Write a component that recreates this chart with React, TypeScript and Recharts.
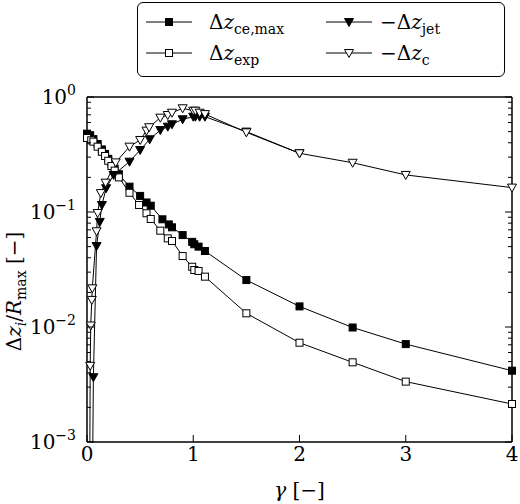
import { LineChart, Line, XAxis, YAxis, Legend, Label } from 'recharts';

document.body.style.margin = '0';

const FONT = "'DejaVu Serif', serif";

// gamma values and Δz/Rmax for each series
const gammaCeMax = [0, 0.03, 0.06, 0.1, 0.14, 0.17, 0.2, 0.23, 0.26, 0.3, 0.4, 0.5, 0.56, 0.6, 0.71, 0.77, 0.8, 0.9, 0.99, 1.01, 1.05, 1.11, 1.5, 2, 2.5, 3, 4];
const ceMax = [0.48, 0.465, 0.43, 0.39, 0.35, 0.32, 0.29, 0.262, 0.238, 0.213, 0.166, 0.138, 0.121, 0.1135, 0.0864, 0.078, 0.0736, 0.063, 0.055, 0.0524, 0.05, 0.0458, 0.0256, 0.0151, 0.0099, 0.0071, 0.00417];

const gammaExp = [0, 0.04, 0.06, 0.1, 0.14, 0.17, 0.2, 0.23, 0.26, 0.3, 0.4, 0.49, 0.56, 0.6, 0.69, 0.76, 0.8, 0.9, 0.99, 1.01, 1.05, 1.11, 1.5, 2, 2.5, 3, 4];
const exp = [0.44, 0.42, 0.409, 0.37, 0.334, 0.307, 0.279, 0.251, 0.229, 0.2, 0.147, 0.115, 0.0975, 0.087, 0.0688, 0.059, 0.056, 0.0414, 0.0334, 0.0313, 0.0307, 0.0274, 0.01315, 0.0073, 0.00493, 0.00335, 0.00214];

const gammaJet = [0, 0.06, 0.09, 0.12, 0.14, 0.18, 0.25, 0.4, 0.5, 0.59, 0.69, 0.76, 0.8, 0.9, 1.0, 1.02, 1.06, 1.11, 1.5, 2];
const jet = [1e-9, 0.00366, 0.0506, 0.082, 0.115, 0.161, 0.21, 0.274, 0.346, 0.429, 0.516, 0.552, 0.579, 0.64, 0.674, 0.674, 0.674, 0.674, 0.5, 0.324];

const gammaC = [0, 0.03, 0.035, 0.045, 0.05, 0.09, 0.1, 0.13, 0.175, 0.27, 0.4, 0.5, 0.56, 0.585, 0.69, 0.76, 0.8, 0.9, 1.0, 1.02, 1.06, 1.11, 1.5, 2, 2.5, 3, 4];
const cVals = [1e-9, 0.0046, 0.0103, 0.0172, 0.0217, 0.068, 0.098, 0.146, 0.18, 0.27, 0.37, 0.423, 0.51, 0.546, 0.661, 0.697, 0.73, 0.798, 0.76, 0.76, 0.73, 0.71, 0.493, 0.324, 0.268, 0.21, 0.163];

const xTicks = [0, 1, 2, 3, 4];
const yMajor = [0.001, 0.01, 0.1, 1];
const yTicks: number[] = [];
yMajor.forEach((d, i) => {
  yTicks.push(d);
  if (i < yMajor.length - 1) for (let k = 2; k <= 9; k++) yTicks.push(k * d);
});

const zip = (xs: number[], ys: number[]) => xs.map((x, i) => ({ x, y: ys[i] }));
const ceMaxData = zip(gammaCeMax, ceMax);
const expData = zip(gammaExp, exp);
const jetData = zip(gammaJet, jet);
const cData = zip(gammaC, cVals);

const isMajor = (v: number) => yMajor.some((m) => Math.abs(m - v) / m < 1e-6);

const FilledSquare = ({ cx, cy }: any) => <rect x={cx - 3.5} y={cy - 3.5} width={7} height={7} fill="#000" stroke="#000" strokeWidth={1} />;
const OpenSquare = ({ cx, cy }: any) => <rect x={cx - 3.5} y={cy - 3.5} width={7} height={7} fill="#fff" stroke="#000" strokeWidth={1} />;
const triPts = (cx: number, cy: number) => `${cx - 4.5},${cy - 3.5} ${cx + 4.5},${cy - 3.5} ${cx},${cy + 4.5}`;
const FilledTri = ({ cx, cy }: any) => <polygon points={triPts(cx, cy)} fill="#000" stroke="#000" strokeWidth={1} />;
const OpenTri = ({ cx, cy }: any) => <polygon points={triPts(cx, cy)} fill="#fff" stroke="#000" strokeWidth={1} />;

const dotOf = (Shape: any) => (p: any) => (Number.isFinite(p.cy) ? <Shape key={`d${p.index}`} cx={p.cx} cy={p.cy} /> : <g key={`d${p.index}`} />);

const LeftTick = ({ x, y, payload }: any) => {
  const v = payload.value;
  const major = isMajor(v);
  const e = Math.round(Math.log10(v));
  return (
    <g>
      <line x1={x} x2={x + (major ? 7 : 4)} y1={y} y2={y} stroke="#000" strokeWidth={1} />
      {major && (
        <text x={x - 11} y={y + 7} textAnchor="end" fontFamily={FONT} fontSize={20} fill="#000">
          10<tspan dy={-9} fontSize={14}>{e === 0 ? '0' : '\u2212' + Math.abs(e)}</tspan>
        </text>
      )}
    </g>
  );
};

const RightTick = ({ x, y, payload }: any) => {
  const major = isMajor(payload.value);
  return <line x1={x} x2={x - (major ? 7 : 4)} y1={y} y2={y} stroke="#000" strokeWidth={1} />;
};

const BottomTick = ({ x, y, payload }: any) => (
  <g>
    <line x1={x} x2={x} y1={y} y2={y - 7} stroke="#000" strokeWidth={1} />
    <text x={x} y={y + 19} textAnchor="middle" fontFamily={FONT} fontSize={20} fill="#000">
      {payload.value}
    </text>
  </g>
);

const TopTick = ({ x, y }: any) => <line x1={x} x2={x} y1={y} y2={y + 7} stroke="#000" strokeWidth={1} />;

const Icon = ({ kind }: { kind: string }) => (
  <svg width={46} height={12} style={{ display: 'block' }}>
    <line x1={0} x2={46} y1={6} y2={6} stroke="#000" strokeWidth={1} />
    {kind === 'fs' && <FilledSquare cx={23} cy={6} />}
    {kind === 'os' && <OpenSquare cx={23} cy={6} />}
    {kind === 'ft' && <FilledTri cx={23} cy={6} />}
    {kind === 'ot' && <OpenTri cx={23} cy={6} />}
  </svg>
);

const Sym = ({ neg, sub }: { neg?: boolean; sub: string }) => (
  <span style={{ fontFamily: FONT, fontSize: 20, whiteSpace: 'nowrap', lineHeight: '28px' }}>
    {neg ? '\u2212' : ''}Δ<i>z</i>
    <sub style={{ fontSize: 14, verticalAlign: '-5px', lineHeight: 0 }}>{sub}</sub>
  </span>
);

const legendItems = [
  { kind: 'fs', sub: 'ce,max', neg: false, left: 8, top: 19 },
  { kind: 'ft', sub: 'jet', neg: true, left: 188, top: 19 },
  { kind: 'os', sub: 'exp', neg: false, left: 8, top: 50 },
  { kind: 'ot', sub: 'c', neg: true, left: 188, top: 50 },
];

const LegendBox = () => (
  <div style={{ position: 'relative', width: 366, height: 73, border: '1px solid #000', borderRadius: 6, background: '#fff' }}>
    {legendItems.map((it) => (
      <div key={it.sub} style={{ position: 'absolute', left: it.left, top: it.top - 14, height: 28, display: 'flex', alignItems: 'center' }}>
        <Icon kind={it.kind} />
        <div style={{ marginLeft: it.neg ? 8 : 17 }}>
          <Sym neg={it.neg} sub={it.sub} />
        </div>
      </div>
    ))}
  </div>
);

const YLabel = ({ viewBox }: any) => {
  const cx = viewBox.x - 6;
  const cy = viewBox.y + viewBox.height / 2 + 22;
  return (
    <text x={cx} y={cy} transform={`rotate(-90 ${cx} ${cy})`} textAnchor="middle" fontFamily={FONT} fontSize={20} fill="#000">
      Δ<tspan fontStyle="italic">z</tspan>
      <tspan dy={5} fontSize={14} fontStyle="italic">i</tspan>
      <tspan dy={-5}>/</tspan>
      <tspan fontStyle="italic">R</tspan>
      <tspan dy={5} fontSize={14}>max</tspan>
      <tspan dy={-5}> [−]</tspan>
    </text>
  );
};

const XLabel = ({ viewBox }: any) => {
  const cx = viewBox.x + viewBox.width / 2;
  const cy = viewBox.y + 55;
  return (
    <text x={cx} y={cy} textAnchor="middle" fontFamily={FONT} fontSize={20} fill="#000">
      <tspan fontStyle="italic">γ</tspan> [−]
    </text>
  );
};

const axisLine = { stroke: '#000', strokeWidth: 1.5 };

export default function App() {
  return (
    <div style={{ width: 520, height: 504, background: '#fff' }}>
      <LineChart width={520} height={504} margin={{ top: 96, right: 7, bottom: 22, left: 27 }}>
        <XAxis xAxisId="b" dataKey="x" type="number" domain={[0, 4]} ticks={xTicks} interval={0}
          tickSize={0} tickMargin={0} tickLine={false} axisLine={axisLine} tick={<BottomTick />} height={40}>
          <Label content={<XLabel />} />
        </XAxis>
        <XAxis xAxisId="t" orientation="top" dataKey="x" type="number" domain={[0, 4]} ticks={xTicks} interval={0}
          tickSize={0} tickMargin={0} tickLine={false} axisLine={axisLine} tick={<TopTick />} height={1} />
        <YAxis yAxisId="l" type="number" scale="log" domain={[0.001, 1]} allowDataOverflow ticks={yTicks} interval={0}
          tickSize={0} tickMargin={0} tickLine={false} axisLine={axisLine} tick={<LeftTick />} width={60}>
          <Label content={<YLabel />} />
        </YAxis>
        <YAxis yAxisId="r" orientation="right" type="number" scale="log" domain={[0.001, 1]} allowDataOverflow ticks={yTicks} interval={0}
          tickSize={0} tickMargin={0} tickLine={false} axisLine={axisLine} tick={<RightTick />} width={1} />
        <Legend layout="horizontal" verticalAlign="middle" align="center"
          wrapperStyle={{ top: 2, left: 137, width: 368, height: 75 }} content={() => <LegendBox />} />
        <Line xAxisId="b" yAxisId="l" data={ceMaxData} dataKey="y" stroke="#000" strokeWidth={1} dot={dotOf(FilledSquare)} activeDot={false} isAnimationActive={false} />
        <Line xAxisId="b" yAxisId="l" data={expData} dataKey="y" stroke="#000" strokeWidth={1} dot={dotOf(OpenSquare)} activeDot={false} isAnimationActive={false} />
        <Line xAxisId="b" yAxisId="l" data={jetData} dataKey="y" stroke="#000" strokeWidth={1} dot={dotOf(FilledTri)} activeDot={false} isAnimationActive={false} />
        <Line xAxisId="b" yAxisId="l" data={cData} dataKey="y" stroke="#000" strokeWidth={1} dot={dotOf(OpenTri)} activeDot={false} isAnimationActive={false} />
      </LineChart>
    </div>
  );
}
